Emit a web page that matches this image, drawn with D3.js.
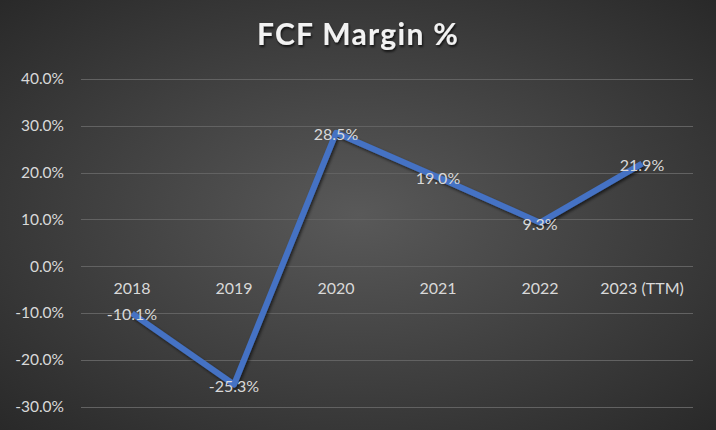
<!DOCTYPE html>
<html><head><meta charset="utf-8">
<script src="https://cdn.jsdelivr.net/npm/d3@7"></script>
<style>html,body{margin:0;padding:0;background:#fff;}svg{display:block;}</style>
</head><body>
<script>
const categories = ["2018","2019","2020","2021","2022","2023 (TTM)"];
const fcfMargin = [-10.1, -25.3, 28.5, 19.0, 9.3, 21.9];
const yTicks = [-30, -20, -10, 0, 10, 20, 30, 40];
const title = "FCF Margin %";

const W = 716, H = 430;
const font = "Lato, 'Open Sans', sans-serif";
const pct = d => d3.format(".1f")(d).replace("\u2212","-") + "%";
const svg = d3.select("body").append("svg").attr("width", W).attr("height", H);
const defs = svg.append("defs");
const rg = defs.append("radialGradient").attr("id","bg").attr("cx","50%").attr("cy","50%").attr("r","75%");
rg.append("stop").attr("offset","0%").attr("stop-color","#595959");
rg.append("stop").attr("offset","100%").attr("stop-color","#262626");
const f = defs.append("filter").attr("id","sh").attr("x","-20%").attr("y","-20%").attr("width","140%").attr("height","140%");
f.append("feDropShadow").attr("dx",1.5).attr("dy",2).attr("stdDeviation",1.5).attr("flood-color","#000").attr("flood-opacity",0.6);
const f2 = defs.append("filter").attr("id","tsh").attr("x","-20%").attr("y","-20%").attr("width","140%").attr("height","140%");
f2.append("feDropShadow").attr("dx",1).attr("dy",2).attr("stdDeviation",1.2).attr("flood-color","#000").attr("flood-opacity",0.7);

svg.append("rect").attr("x",0).attr("y",0).attr("width",W).attr("height",H).attr("fill","url(#bg)");

const x = d3.scaleBand().domain(categories).range([81, 693]);
const y = d3.scaleLinear().domain([-30, 40]).range([406.5, 79]);

// gridlines
svg.append("g").selectAll("line").data(yTicks).join("line")
  .attr("x1",81).attr("x2",693)
  .attr("y1",d=>Math.round(y(d))+0.5).attr("y2",d=>Math.round(y(d))+0.5)
  .attr("stroke","#626262").attr("stroke-width",1);

// y axis labels
const yAxis = d3.axisLeft(y).tickValues(yTicks).tickSize(0).tickPadding(0).tickFormat(pct);
const ga = svg.append("g").attr("transform","translate(64,0)").call(yAxis);
ga.select(".domain").remove();
ga.selectAll("text").attr("fill","#d9d9d9").attr("font-family",font).attr("font-size",15.5);

// x category labels
const xAxis = d3.axisBottom(x).tickSize(0).tickPadding(0);
const gx = svg.append("g").attr("transform",`translate(0,${y(0)+16})`).call(xAxis);
gx.select(".domain").remove();
gx.selectAll("text").attr("fill","#d9d9d9").attr("font-family",font).attr("font-size",16);

// line
const line = d3.line().x((d,i)=>x(categories[i])+x.bandwidth()/2).y(d=>y(d));
svg.append("path").datum(fcfMargin).attr("d",line)
  .attr("fill","none").attr("stroke","#4472C4").attr("stroke-width",6)
  .attr("stroke-linejoin","round").attr("filter","url(#sh)");

// data labels
svg.append("g").selectAll("text").data(fcfMargin).join("text")
  .attr("x",(d,i)=>x(categories[i])+x.bandwidth()/2)
  .attr("y",d=>y(d)+3)
  .attr("text-anchor","middle").attr("dominant-baseline","middle")
  .attr("fill","#d9d9d9").attr("font-family",font).attr("font-size",16)
  .text(pct);

// title
svg.append("text").attr("x",W/2).attr("y",45).attr("text-anchor","middle")
  .attr("fill","#f2f2f2").attr("font-family",font).attr("font-weight","bold").attr("font-size",30)
  .attr("letter-spacing",1.3)
  .attr("filter","url(#tsh)").text(title);
</script>
</body></html>
